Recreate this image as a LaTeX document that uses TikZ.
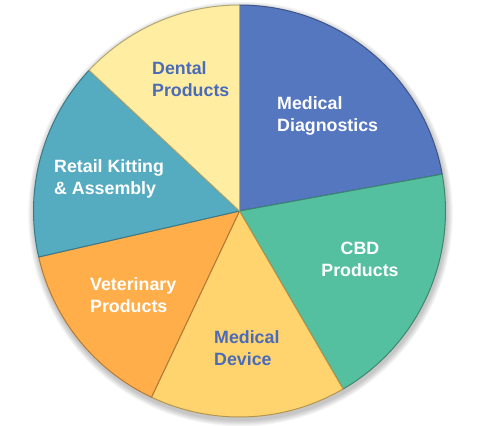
\documentclass[tikz,border=0pt]{standalone}
\usepackage{fontspec}
\setmainfont{Liberation Sans}
\usetikzlibrary{calc}
\definecolor{cDiag}{HTML}{5577C0}
\definecolor{cCBD}{HTML}{55C0A0}
\definecolor{cDev}{HTML}{FFD46E}
\definecolor{cVet}{HTML}{FFAE4A}
\definecolor{cRet}{HTML}{55ACC0}
\definecolor{cDen}{HTML}{FFEEA2}
\definecolor{cBlueText}{HTML}{4A6BB8}
\tikzset{
  slice/.style={line width=1pt, line join=round},
  lbl/.style={font=\fontsize{17.8}{22}\selectfont\bfseries, align=left, inner sep=0pt, anchor=west},
  lblc/.style={font=\fontsize{17.8}{22}\selectfont\bfseries, align=center, inner sep=0pt},
}
\begin{document}
\begin{tikzpicture}[x=1pt,y=1pt]
\useasboundingbox (0,0) rectangle (480,426);
\coordinate (c) at (239.5,215);
\def\R{206}
% soft shadow
\foreach \i in {1,...,7}{
  \fill[black, opacity=0.035] ($(c)+(1,-3)$) circle[radius=\R+\i*0.9];
}
\fill[white] (c) circle[radius=\R];
% slices
\newcommand{\pieslice}[3]{%
  \fill[#3] (c) -- ++(#1:\R) arc[start angle=#1, end angle=#2, radius=\R] -- cycle;
  \draw[slice, draw=#3!70!black] (c) -- ++(#1:\R) arc[start angle=#1, end angle=#2, radius=\R] -- cycle;
}
\pieslice{90}{10.3}{cDiag}
\pieslice{10.3}{-59.8}{cCBD}
\pieslice{-59.8}{-115.3}{cDev}
\pieslice{-115.3}{-167.1}{cVet}
\pieslice{-167.1}{-223.1}{cRet}
\pieslice{-223.1}{-270}{cDen}
% labels
\node[lbl, text=white] (diag) at (277,310) {Medical\\Diagnostics};
\node[lblc, text=white] (cbd) at (360,167) {CBD\\Products};
\node[lbl, text=cBlueText] (dev) at (214,78) {Medical\\Device};
\node[lbl, text=white] (vet) at (90,131) {Veterinary\\Products};
\node[lbl, text=white] (ret) at (54,247) {Retail Kitting\\\& Assembly};
\node[lbl, text=cBlueText] (den) at (152,347) {Dental\\Products};
\end{tikzpicture}
\end{document}
